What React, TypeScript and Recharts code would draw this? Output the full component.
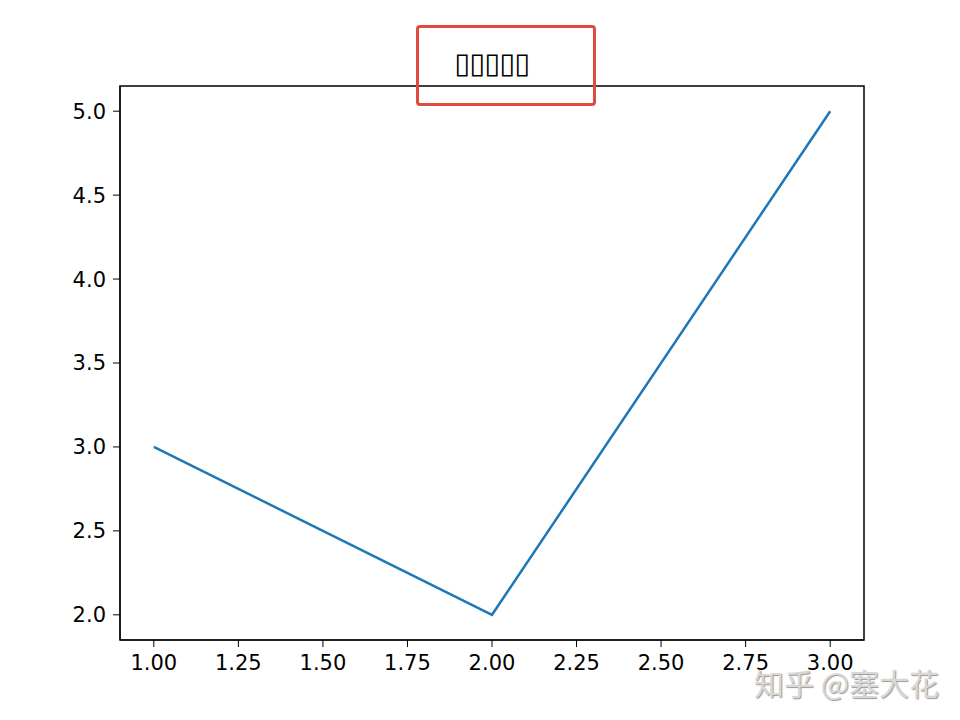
import React from 'react';
import { LineChart, Line, XAxis, YAxis, ReferenceArea } from 'recharts';

const xValues = [1, 2, 3];
const yValues = [3, 2, 5];
const xTicks = [1, 1.25, 1.5, 1.75, 2, 2.25, 2.5, 2.75, 3];
const yTicks = [2, 2.5, 3, 3.5, 4, 4.5, 5];
const titleText = '▯▯▯▯▯';
const watermark = '知乎 @塞大花';

const data = xValues.map((x, i) => ({ x, y: yValues[i] }));

const tickStyle = { fill: '#000', fontSize: 21, fontFamily: 'DejaVu Sans' };

const App: React.FC = () => {
  return (
    <div style={{ position: 'absolute', left: 0, top: 0, width: 960, height: 720, background: '#fff' }}>
      <LineChart width={960} height={720} data={data} margin={{ top: 86, right: 96, bottom: 0, left: 0 }}>
        <XAxis
          dataKey="x"
          type="number"
          domain={[0.9, 3.1]}
          ticks={xTicks}
          tickFormatter={(v: number) => v.toFixed(2)}
          height={80}
          tickSize={7}
          tickMargin={8}
          stroke="#000"
          tick={tickStyle}
          allowDataOverflow
        />
        <YAxis
          type="number"
          domain={[1.85, 5.15]}
          ticks={yTicks}
          tickFormatter={(v: number) => v.toFixed(1)}
          width={120}
          tickSize={7}
          tickMargin={7}
          stroke="#000"
          tick={tickStyle}
          allowDataOverflow
        />
        <ReferenceArea x1={0.9} x2={3.1} y1={1.85} y2={5.15} fill="none" stroke="#000" strokeWidth={1.5} ifOverflow="visible" />
        <Line dataKey="y" stroke="#1f77b4" strokeWidth={2.5} dot={false} isAnimationActive={false} />
      </LineChart>
      <div
        style={{
          position: 'absolute',
          left: 416,
          top: 25,
          width: 180,
          height: 81,
          border: '3px solid #e04a3f',
          borderRadius: 4,
          boxSizing: 'border-box',
        }}
      />
      <div
        style={{
          position: 'absolute',
          left: 392,
          top: 46,
          width: 200,
          textAlign: 'center',
          fontFamily: 'DejaVu Sans',
          fontSize: 29,
          color: '#000',
          letterSpacing: -1,
        }}
      >
        {titleText}
      </div>
      <div
        style={{
          position: 'absolute',
          left: 754,
          top: 660,
          fontFamily: 'Noto Sans CJK SC',
          fontSize: 30,
          color: '#d8d8d8',
          textShadow: '1px 1px 1px #999',
          whiteSpace: 'nowrap',
        }}
      >
        {watermark}
      </div>
    </div>
  );
};

export default App;
